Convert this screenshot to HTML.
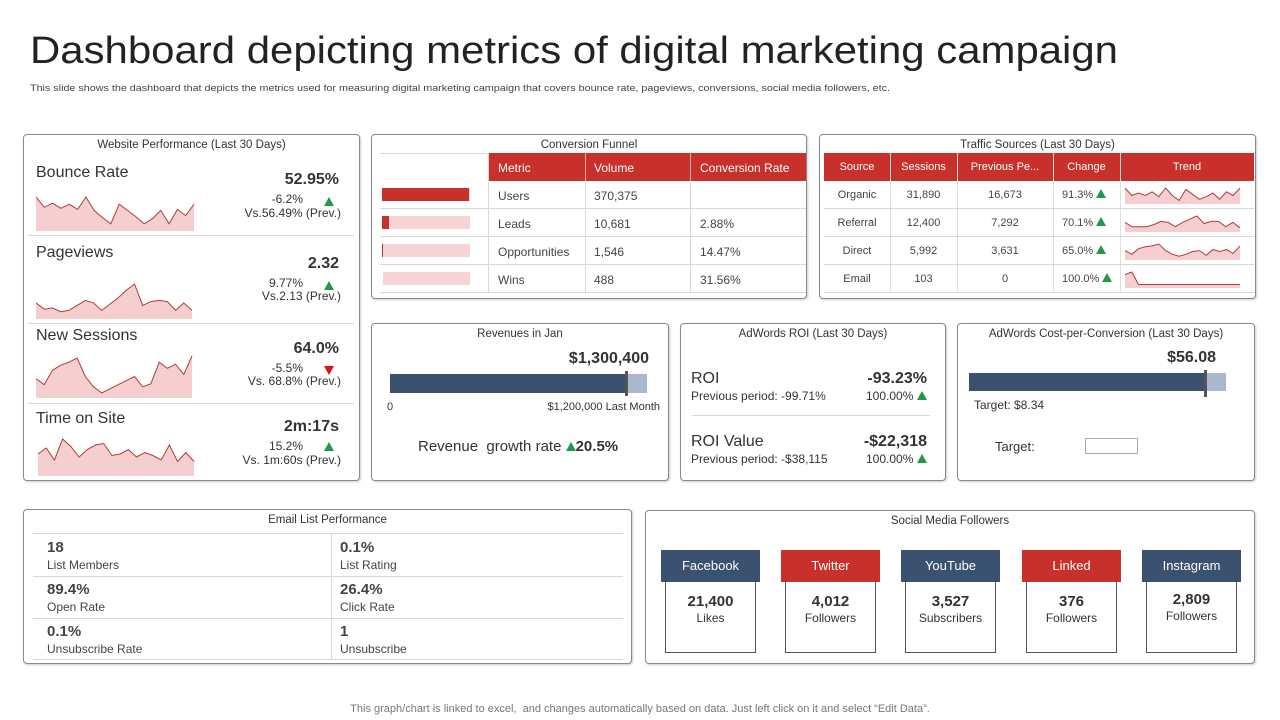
<!DOCTYPE html>
<html><head><meta charset="utf-8">
<style>
*{box-sizing:border-box;margin:0;padding:0}
body{width:1280px;height:720px;background:#fff;font-family:"Liberation Sans",sans-serif;color:#333;position:relative;overflow:hidden}
.a{position:absolute}
.panel{position:absolute;border:1px solid #8a8a8a;border-radius:4px;background:#fff;box-shadow:1px 1px 2px #ccc}
.ptitle{position:absolute;left:0;right:0;text-align:center;font-size:11.5px;color:#333;top:4px}
.hdr{position:absolute;background:#c8302b;color:#fff;font-size:12px}
.cell{position:absolute;font-size:12px;color:#444}
.up{display:inline-block;width:0;height:0;border-left:5px solid transparent;border-right:5px solid transparent;border-bottom:9px solid #1f9a4a}
.dn{display:inline-block;width:0;height:0;border-left:5px solid transparent;border-right:5px solid transparent;border-top:9px solid #d11}
.hl{position:absolute;height:1px;background:#d8d8d8}
.vl{position:absolute;width:1px;background:#d8d8d8}
.r{text-align:right}
</style></head><body>
<svg class="a" style="left:0;top:20px" width="1280" height="80">
<text x="30" y="43" font-family="Liberation Sans" font-size="38" fill="#222" textLength="1088" lengthAdjust="spacingAndGlyphs">Dashboard depicting metrics of digital marketing campaign</text>
<text x="30" y="71" font-family="Liberation Sans" font-size="9" fill="#444" textLength="860" lengthAdjust="spacingAndGlyphs">This slide shows the dashboard that depicts the metrics used for measuring digital marketing campaign that covers bounce rate, pageviews, conversions, social media followers, etc.</text>
</svg>

<!-- Website performance -->
<div class="panel" style="left:23px;top:134px;width:337px;height:347px">
<div class="ptitle">Website Performance (Last 30 Days)</div>
</div>
<div class="hl" style="left:28px;top:235px;width:326px"></div>
<div class="hl" style="left:28px;top:323px;width:326px"></div>
<div class="hl" style="left:28px;top:403px;width:326px"></div>

<div class="a" style="left:36px;top:164px;font-size:16px">Bounce Rate</div>
<div class="a r" style="right:941px;top:171px;font-size:16px;font-weight:bold">52.95%</div>
<div class="a r" style="right:977px;top:192px;font-size:12px">-6.2%</div><div class="a" style="left:324px;top:193px"><span class="up"></span></div>
<div class="a r" style="right:939px;top:206px;font-size:12px">Vs.56.49% (Prev.)</div>

<div class="a" style="left:36px;top:244px;font-size:16px">Pageviews</div>
<div class="a r" style="right:941px;top:255px;font-size:16px;font-weight:bold">2.32</div>
<div class="a r" style="right:977px;top:276px;font-size:12px">9.77%</div><div class="a" style="left:324px;top:277px"><span class="up"></span></div>
<div class="a r" style="right:939px;top:289px;font-size:12px">Vs.2.13 (Prev.)</div>

<div class="a" style="left:36px;top:327px;font-size:16px">New Sessions</div>
<div class="a r" style="right:941px;top:340px;font-size:16px;font-weight:bold">64.0%</div>
<div class="a r" style="right:977px;top:361px;font-size:12px">-5.5%</div><div class="a" style="left:324px;top:362px"><span class="dn"></span></div>
<div class="a r" style="right:939px;top:374px;font-size:12px">Vs. 68.8% (Prev.)</div>

<div class="a" style="left:36px;top:410px;font-size:16px">Time on Site</div>
<div class="a r" style="right:941px;top:418px;font-size:16px;font-weight:bold">2m:17s</div>
<div class="a r" style="right:977px;top:439px;font-size:12px">15.2%</div><div class="a" style="left:324px;top:438px"><span class="up"></span></div>
<div class="a r" style="right:939px;top:453px;font-size:12px">Vs. 1m:60s (Prev.)</div>

<svg id="spBounce" class="a" style="left:36px;top:196px" width="159" height="35"></svg>
<svg id="spPage" class="a" style="left:36px;top:283px" width="157" height="36"></svg>
<svg id="spSess" class="a" style="left:36px;top:355px" width="157" height="43"></svg>
<svg id="spTime" class="a" style="left:38px;top:438px" width="157" height="38"></svg>

<!-- Conversion funnel -->
<div class="panel" style="left:371px;top:134px;width:436px;height:165px">
<div class="ptitle">Conversion Funnel</div>
</div>
<div class="hdr" style="left:488px;top:153px;width:318px;height:28px"></div>
<div class="cell" style="left:498px;top:161px;color:#fff">Metric</div>
<div class="cell" style="left:594px;top:161px;color:#fff">Volume</div>
<div class="cell" style="left:700px;top:161px;color:#fff">Conversion Rate</div>
<div class="hl" style="left:380px;top:153px;width:108px"></div>
<div id="funnel"></div>

<!-- Traffic sources -->
<div class="panel" style="left:819px;top:134px;width:437px;height:165px">
<div class="ptitle">Traffic Sources (Last 30 Days)</div>
</div>
<div class="hdr" style="left:824px;top:153px;width:430px;height:28px"></div>
<div id="traffic"></div>

<!-- Revenues -->
<div class="panel" style="left:371px;top:323px;width:298px;height:158px">
<div class="ptitle">Revenues in Jan</div>
</div>
<div class="a r" style="right:631px;top:350px;font-size:16px;font-weight:bold">$1,300,400</div>
<div class="a" style="left:390px;top:374px;width:257px;height:19px;background:#a9b7cf"></div>
<div class="a" style="left:390px;top:374px;width:237px;height:19px;background:#3b5170"></div>
<div class="a" style="left:625px;top:371px;width:3px;height:25px;background:#555"></div>
<div class="a" style="left:387px;top:401px;font-size:11px">0</div>
<div class="a r" style="right:620px;top:401px;font-size:11px">$1,200,000 Last Month</div>
<div class="a" style="left:418px;top:438px;font-size:15px">Revenue&nbsp; growth rate <span class="up"></span><b>20.5%</b></div>

<!-- ROI -->
<div class="panel" style="left:680px;top:323px;width:266px;height:158px">
<div class="ptitle">AdWords ROI (Last 30 Days)</div>
</div>
<div class="a" style="left:691px;top:370px;font-size:16px">ROI</div>
<div class="a" style="left:691px;top:389px;font-size:12px">Previous period: -99.71%</div>
<div class="a r" style="right:353px;top:370px;font-size:16px;font-weight:bold">-93.23%</div>
<div class="a" style="left:866px;top:389px;font-size:12px">100.00% <span class="up"></span></div>
<div class="hl" style="left:692px;top:415px;width:238px"></div>
<div class="a" style="left:691px;top:433px;font-size:16px">ROI Value</div>
<div class="a" style="left:691px;top:452px;font-size:12px">Previous period: -$38,115</div>
<div class="a r" style="right:353px;top:433px;font-size:16px;font-weight:bold">-$22,318</div>
<div class="a" style="left:866px;top:452px;font-size:12px">100.00% <span class="up"></span></div>

<!-- CPC -->
<div class="panel" style="left:957px;top:323px;width:298px;height:158px">
<div class="ptitle">AdWords Cost-per-Conversion (Last 30 Days)</div>
</div>
<div class="a r" style="right:64px;top:349px;font-size:16px;font-weight:bold">$56.08</div>
<div class="a" style="left:969px;top:373px;width:257px;height:18px;background:#a9b7cf"></div>
<div class="a" style="left:969px;top:373px;width:236px;height:18px;background:#3b5170"></div>
<div class="a" style="left:1204px;top:370px;width:3px;height:27px;background:#555"></div>
<div class="a" style="left:974px;top:398px;font-size:12px">Target: $8.34</div>
<div class="a" style="left:995px;top:439px;font-size:13px">Target:</div>
<div class="a" style="left:1085px;top:438px;width:53px;height:16px;border:1px solid #aaa"></div>

<!-- Email -->
<div class="panel" style="left:23px;top:509px;width:609px;height:155px">
<div class="ptitle">Email List Performance</div>
</div>
<div class="hl" style="left:33px;top:533px;width:590px"></div>
<div class="hl" style="left:33px;top:576px;width:590px"></div>
<div class="hl" style="left:33px;top:618px;width:590px"></div>
<div class="hl" style="left:33px;top:659px;width:590px"></div>
<div class="vl" style="left:331px;top:533px;height:126px"></div>
<div id="email"></div>

<!-- Social -->
<div class="panel" style="left:645px;top:510px;width:610px;height:154px">
<div class="ptitle">Social Media Followers</div>
</div>
<div id="social"></div>

<div class="a" style="left:0;width:1280px;top:703px;text-align:center;font-size:11px;color:#777">This graph/chart is linked to excel,&nbsp; and changes automatically based on data. Just left click on it and select “Edit Data”.</div>

<script>
const bounceVals=[32,22,26,21,25,20,32,19,12,6,25,19,13,6,11,19,6,20,14,25];
const pageVals=[12,7,8,5,6,10,14,12,6,11,16,22,27,10,13,14,13,6,12,6];
const sessVals=[18,12,26,31,34,38,20,10,4,8,12,16,20,10,13,34,28,32,22,40];
const timeVals=[14,18,10,24,19,12,17,20,21,13,14,17,12,15,13,10,20,9,15,9];
const organicTrend=[12,6,8,6,9,5,12,6,2,11,7,3,5,8,3,9,6,12];
const referralTrend=[8,4,4,4,6,9,8,4,8,11,14,7,9,9,4,8,3];
const directTrend=[9,5,11,13,14,16,9,5,3,5,8,9,4,10,8,10,6,14];
const emailTrend=[10,12,2,2,2,2,2,2,2,2,2,2,2,2,2,2,2,2];

const funnelMetrics=["Users","Leads","Opportunities","Wins"];
const funnelVolumes=["370,375","10,681","1,546","488"];
const funnelRates=["","2.88%","14.47%","31.56%"];
const funnelBarPct=[100,8,1,0];

const trafficSources=["Organic","Referral","Direct","Email"];
const trafficSessions=["31,890","12,400","5,992","103"];
const trafficPrev=["16,673","7,292","3,631","0"];
const trafficChange=["91.3%","70.1%","65.0%","100.0%"];
const trafficHeaders=["Source","Sessions","Previous Pe...","Change","Trend"];

const emailValues=["18","0.1%","89.4%","26.4%","0.1%","1"];
const emailLabels=["List Members","List Rating","Open Rate","Click Rate","Unsubscribe Rate","Unsubscribe"];

const socialNames=["Facebook","Twitter","YouTube","Linked","Instagram"];
const socialCounts=["21,400","4,012","3,527","376","2,809"];
const socialUnits=["Likes","Followers","Subscribers","Followers","Followers"];

const NS="http://www.w3.org/2000/svg";
function spark(svg,vals,pad){
  const w=+svg.getAttribute('width'),h=+svg.getAttribute('height');
  const mx=Math.max(...vals),mn=0;
  const x=i=>i*(w-1)/(vals.length-1);
  const y=v=>pad+(h-pad-1)*(1-(v-mn)/(mx-mn||1));
  let d=vals.map((v,i)=>(i?'L':'M')+x(i).toFixed(1)+' '+y(v).toFixed(1)).join(' ');
  const area=document.createElementNS(NS,'path');
  area.setAttribute('d',d+` L${x(vals.length-1)} ${h} L0 ${h} Z`);
  area.setAttribute('fill','#f5cfcf');
  
  
  svg.appendChild(area);
  const ln=document.createElementNS(NS,'path');
  ln.setAttribute('d',d);ln.setAttribute('fill','none');ln.setAttribute('stroke','#b23a3a');ln.setAttribute('stroke-width','1');
  
  
  svg.appendChild(ln);
}
spark(document.getElementById('spBounce'),bounceVals,1);
spark(document.getElementById('spPage'),pageVals,1);
spark(document.getElementById('spSess'),sessVals,1);
spark(document.getElementById('spTime'),timeVals,1);

function div(parent,css,html){const d=document.createElement('div');d.style.cssText='position:absolute;'+css;if(html!==undefined)d.innerHTML=html;parent.appendChild(d);return d;}

// funnel
const fu=document.getElementById('funnel');
const colsF=[488,585,690,806];
for(let c of [488,585,690]){const v=div(fu,`left:${c}px;top:153px;width:1px;height:140px;background:${c==488?'#d8d8d8':'#e8b0ad'}`);}
funnelMetrics.forEach((m,i)=>{
  const top=181+i*28;
  div(fu,`left:380px;top:${top+27}px;width:426px;height:1px;background:#d8d8d8`);
  const bg=div(fu,`left:383px;top:${top+7}px;width:87px;height:13px;background:#f7d4d4`);
  
  
  const b=div(fu,`left:382px;top:${top+7}px;width:${87*funnelBarPct[i]/100}px;height:13px;background:#c8302b`);
  
  
  div(fu,`left:498px;top:${top+8}px;font-size:12px;color:#444`,m);
  div(fu,`left:594px;top:${top+8}px;font-size:12px;color:#444`,funnelVolumes[i]);
  div(fu,`left:700px;top:${top+8}px;font-size:12px;color:#444`,funnelRates[i]);
});
// vertical lines in body
for(let c of [585,690]) div(fu,`left:${c}px;top:181px;width:1px;height:112px;background:#d8d8d8`);

// traffic
const tr=document.getElementById('traffic');
const colsT=[824,890,957,1053,1120,1254];
trafficHeaders.forEach((h,i)=>{
  div(tr,`left:${colsT[i]}px;top:161px;width:${colsT[i+1]-colsT[i]}px;text-align:center;font-size:11px;color:#fff`,h);
  if(i>0) div(tr,`left:${colsT[i]}px;top:153px;width:1px;height:140px;background:#e0e0e0`);
});
const trends=[organicTrend,referralTrend,directTrend,emailTrend];
trafficSources.forEach((s,i)=>{
  const top=181+i*28;
  div(tr,`left:824px;top:${top+27}px;width:430px;height:1px;background:#d8d8d8`);
  const vals=[s,trafficSessions[i],trafficPrev[i]];
  vals.forEach((v,j)=>div(tr,`left:${colsT[j]}px;top:${top+8}px;width:${colsT[j+1]-colsT[j]}px;text-align:center;font-size:11px;color:#444`,v));
  div(tr,`left:1062px;top:${top+8}px;font-size:11px;color:#444`,trafficChange[i]+' <span class="up"></span>');
  const sv=document.createElementNS(NS,'svg');
  sv.setAttribute('width','116');sv.setAttribute('height','18');
  sv.setAttribute('style',`position:absolute;left:1125px;top:${top+5}px`);
  
  
  tr.appendChild(sv);
  spark(sv,trends[i],2);
});

// email
const em=document.getElementById('email');
emailValues.forEach((v,i)=>{
  const col=i%2,row=Math.floor(i/2);
  const x=col?340:47,y=[539,581,623][row];
  const e=div(em,`left:${x}px;top:${y}px;font-size:15px;font-weight:bold;color:#444`,v);
  
  
  div(em,`left:${x}px;top:${y+19}px;font-size:12px;color:#444`,emailLabels[i]);
});

// social
const so=document.getElementById('social');
const sx=[661,781,901,1022,1142];
socialNames.forEach((n,i)=>{
  const x=sx[i];
  const h=div(so,`left:${x}px;top:550px;width:99px;height:32px;background:${i%2?'#c8302b':'#3b5170'};color:#fff;font-size:13px;text-align:center;line-height:32px`,n);
  
  
  const b=div(so,`left:${x+4}px;top:582px;width:91px;height:71px;border:1px solid #555;border-top:none;text-align:center;color:#333`);
  
  
  b.innerHTML=`<div style="margin-top:${i==4?9:11}px;font-size:15px;font-weight:bold">${socialCounts[i]}</div><div style="font-size:12px;margin-top:1px">${socialUnits[i]}</div>`;
});
</script>
</body></html>
